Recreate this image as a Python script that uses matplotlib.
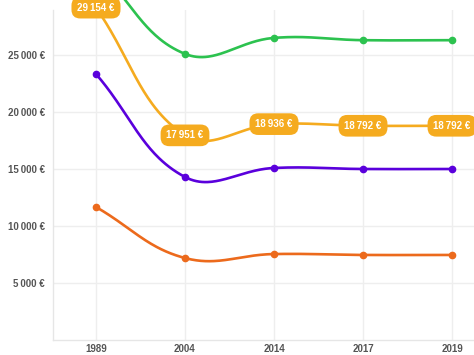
import numpy as np
import matplotlib
matplotlib.use("Agg")
import matplotlib.pyplot as plt

NS = "\u202f"
years = ["1989", "2004", "2014", "2017", "2019"]
green = [32800, 25100, 26500, 26300, 26300]
yellow = [29154, 17951, 18936, 18792, 18792]
purple = [23333, 14300, 15090, 15000, 15000]
orange = [11667, 7190, 7540, 7460, 7460]
yellow_labels = ["29" + NS + "154 €", "17" + NS + "951 €", "18" + NS + "936 €",
                 "18" + NS + "792 €", "18" + NS + "792 €"]
ytick_vals = [5000, 10000, 15000, 20000, 25000]
ytick_labels = ["5" + NS + "000 €", "10" + NS + "000 €", "15" + NS + "000 €",
                "20" + NS + "000 €", "25" + NS + "000 €"]

FONT = ["Liberation Sans", "DejaVu Sans"]

W, H = 474, 355
fig = plt.figure(figsize=(W / 100, H / 100), dpi=100)
ax = fig.add_axes([53 / W, 15 / H, 421 / W, 330 / H])
ax.set_xlim(-0.483, 4.247)
ax.set_ylim(0, 330 / 57 * 5000)

for s in ["top", "right"]:
    ax.spines[s].set_visible(False)
for s in ["left", "bottom"]:
    ax.spines[s].set_color("#e6e6e6")
    ax.spines[s].set_linewidth(1)

x = np.arange(len(years))
ax.set_xticks(x)
ax.set_xticklabels(years)
ax.set_yticks(ytick_vals)
ax.set_yticklabels(ytick_labels)
ax.tick_params(axis="both", length=0, labelsize=7, labelcolor="#555555")
ax.tick_params(axis="x", pad=3)
ax.tick_params(axis="y", pad=6)
for lab in ax.get_xticklabels() + ax.get_yticklabels():
    lab.set_fontfamily(FONT)
    lab.set_fontweight("bold")
ax.grid(True, color="#eeeeee", linewidth=1)
ax.set_axisbelow(True)


def spline_xy(xs, ys, t=0.4):
    pts = ax.transData.transform(np.column_stack([xs, ys]).astype(float))
    n = len(pts)
    cprev = [None] * n
    cnext = [None] * n
    for i in range(n):
        cur = pts[i]
        prev = pts[i - 1] if i > 0 else cur
        nxt = pts[i + 1] if i < n - 1 else cur
        d01 = np.hypot(*(cur - prev))
        d12 = np.hypot(*(nxt - cur))
        tot = d01 + d12
        s01 = d01 / tot if tot else 0
        s12 = d12 / tot if tot else 0
        fa, fb = t * s01, t * s12
        cprev[i] = cur - fa * (nxt - prev)
        cnext[i] = cur + fb * (nxt - prev)
    out = []
    u = np.linspace(0, 1, 60)[:, None]
    for i in range(n - 1):
        p0, p1, p2, p3 = pts[i], cnext[i], cprev[i + 1], pts[i + 1]
        b = ((1 - u) ** 3) * p0 + 3 * ((1 - u) ** 2) * u * p1 + 3 * (1 - u) * u ** 2 * p2 + u ** 3 * p3
        out.append(b)
    out = np.vstack(out)
    d = ax.transData.inverted().transform(out)
    return d[:, 0], d[:, 1]


series = [
    (green, "#2cc24f"),
    (yellow, "#f5ab1f"),
    (purple, "#5a00dc"),
    (orange, "#ec6a1c"),
]
for vals, col in series:
    sx, sy = spline_xy(x, vals)
    ax.plot(sx, sy, color=col, lw=1.9, clip_on=False, zorder=3, solid_capstyle="round")
    ax.plot(x, vals, "o", color=col, ms=4.5, clip_on=False, zorder=4)

for xi, v, lab in zip(x, yellow, yellow_labels):
    ax.text(xi, v, lab, ha="center", va="center", color="white", fontsize=7,
            fontweight="bold", family=FONT, zorder=6, clip_on=False,
            bbox=dict(boxstyle="round,pad=0.6,rounding_size=0.9", fc="#f5ab1f", ec="none"))

fig.savefig("out.png", dpi=100)
